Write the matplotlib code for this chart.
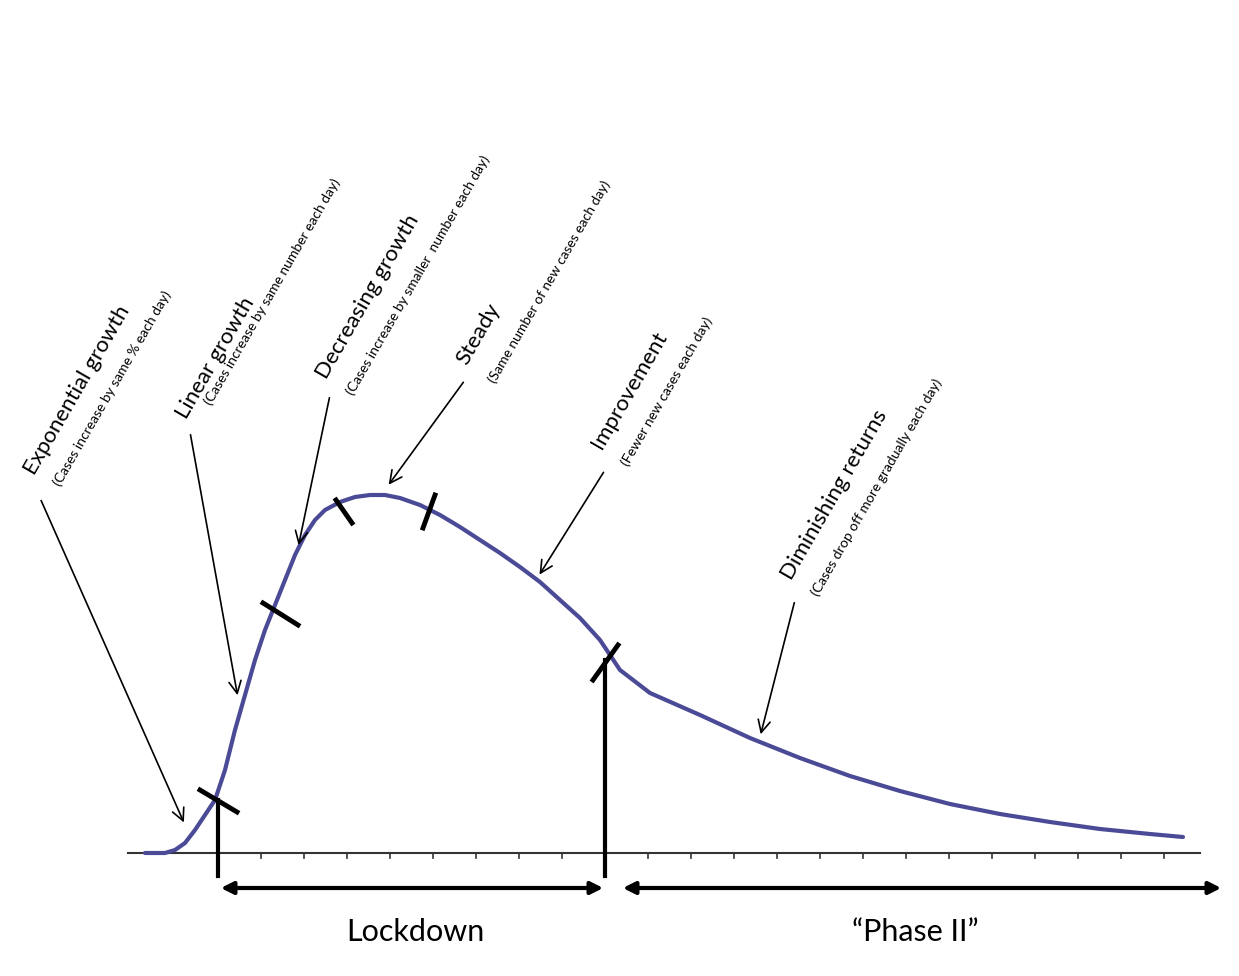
import matplotlib; matplotlib.use('Agg')
import matplotlib.pyplot as plt
import numpy as np

plt.rcParams['font.family'] = ['Lato', 'DejaVu Sans']

# curve (pixel coords, y downward)
curve_x = [145, 165, 175, 185, 195, 205, 215, 225, 235, 245, 255, 265, 275, 285, 295, 305, 315, 325,
           340, 355, 370, 385, 400, 420, 440, 460, 480, 500, 520, 540, 560, 580, 600, 620, 650, 700,
           750, 800, 850, 900, 950, 1000, 1050, 1100, 1150, 1183]
curve_y = [853, 853, 850, 843, 830, 815, 800, 770, 730, 695, 660, 630, 605, 580, 555, 535, 520, 510,
           502, 497, 495, 495, 498, 505, 515, 527, 540, 553, 567, 582, 600, 618, 640, 670, 693, 715,
           738, 758, 776, 791, 804, 814, 822, 829, 834, 837]

axis_ticks = list(range(218, 1190, 43))

labels = ['Exponential growth', 'Linear growth', 'Decreasing growth', 'Steady', 'Improvement',
          'Diminishing returns']
subs = ['(Cases increase by same % each day)', '(Cases increase by same number each day)',
        '(Cases increase by smaller  number each day)', '(Same number of new cases each day)',
        '(Fewer new cases each day)', '(Cases drop off more gradually each day)']
label_pos = [(38, 478), (190, 422), (330, 382), (470, 368), (605, 452), (795, 583)]
sub_pos = [(62, 488), (213, 407), (355, 397), (497, 385), (630, 468), (820, 598)]
arrow_from = [(40, 498), (190, 432), (330, 395), (465, 380), (605, 470), (795, 600)]
arrow_to = [(185, 825), (238, 698), (298, 548), (387, 487), (538, 577), (760, 737)]

phase_marks = [((200, 790), (237, 812)), ((263, 603), (298, 625)), ((336, 500), (352, 523)),
               ((423, 528), (435, 495)), ((593, 680), (618, 645))]

fig = plt.figure(figsize=(12.39, 9.76), dpi=100)
ax = fig.add_axes([0, 0, 1, 1])
ax.set_xlim(0, 1239)
ax.set_ylim(976, 0)
ax.axis('off')

# baseline and ticks
ax.plot([128, 1200], [853, 853], color='#333333', lw=1.5)
for t in axis_ticks:
    ax.plot([t, t], [853, 858], color='#333333', lw=1.2)

ax.plot(curve_x, curve_y, color='#4b4a96', lw=3, solid_capstyle='round')

for (a, b) in phase_marks:
    ax.plot([a[0], b[0]], [a[1], b[1]], color='black', lw=3.5)

ax.plot([218, 218], [800, 876], color='black', lw=3)
ax.plot([605, 605], [660, 876], color='black', lw=3)

for txt, sub, p, s, a, b in zip(labels, subs, label_pos, sub_pos, arrow_from, arrow_to):
    ax.text(p[0], p[1], txt, rotation=60, rotation_mode='anchor', ha='left', va='bottom', fontsize=16)
    ax.text(s[0], s[1], sub, rotation=60, rotation_mode='anchor', ha='left', va='bottom', fontsize=10)
    ax.annotate('', xy=b, xytext=a, arrowprops=dict(arrowstyle='->', color='black', lw=1.2,
                                                    mutation_scale=22))

for x0, x1 in [(218, 606), (620, 1224)]:
    ax.annotate('', xy=(x1, 888), xytext=(x0, 888),
                arrowprops=dict(arrowstyle='<|-|>', color='black', lw=3, mutation_scale=18))

ax.text(415, 932, 'Lockdown', ha='center', va='center', fontsize=22)
ax.text(915, 932, '\u201cPhase II\u201d', ha='center', va='center', fontsize=22)

fig.savefig('out.png', dpi=100, facecolor='white')
